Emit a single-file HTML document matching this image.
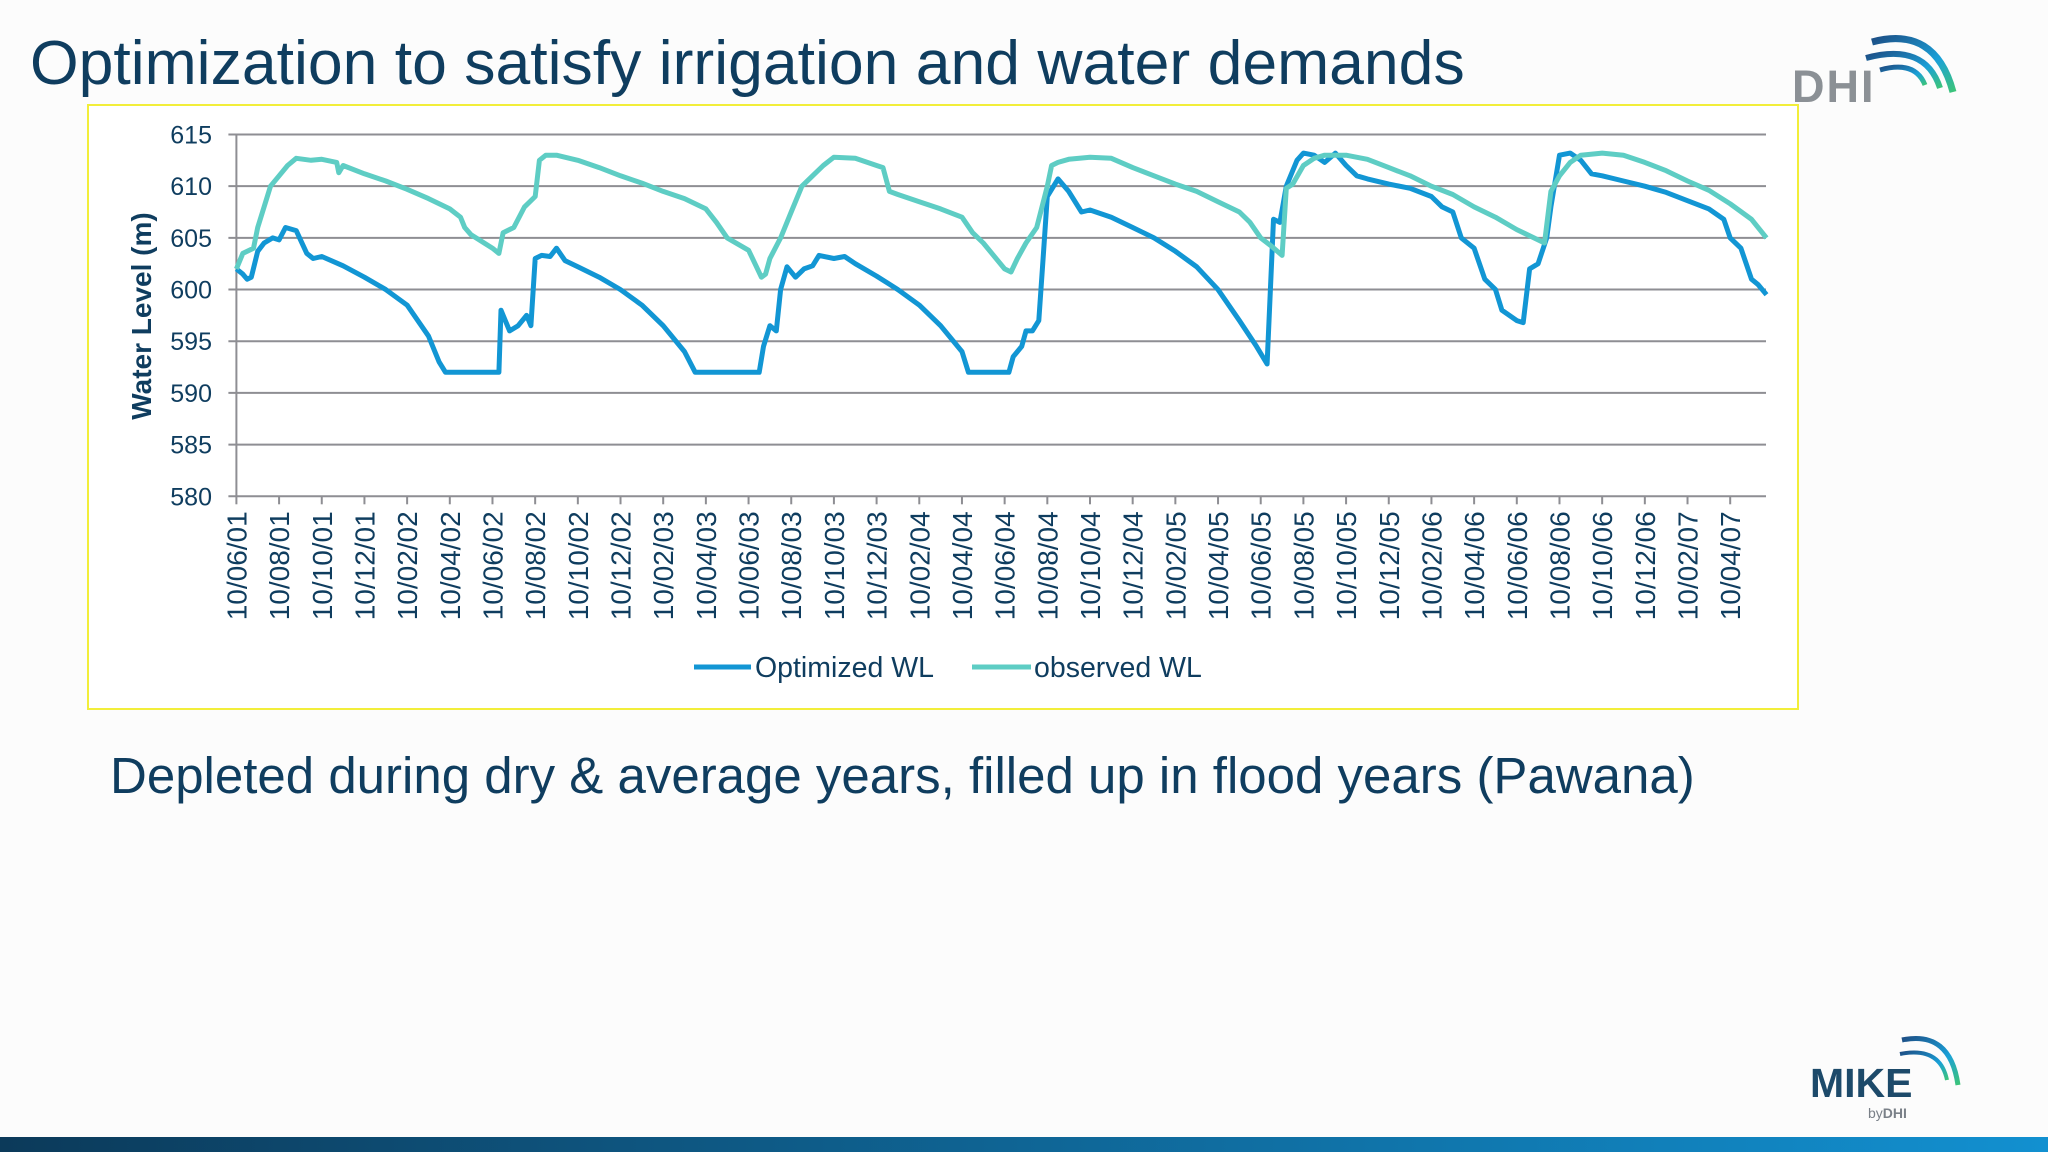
<!DOCTYPE html>
<html><head><meta charset="utf-8"><style>
html,body{margin:0;padding:0;background:#fcfcfc;}
svg{display:block;font-family:"Liberation Sans",sans-serif;}
</style></head><body>
<svg id="s" width="2048" height="1152" viewBox="0 0 2048 1152">
<defs>
<linearGradient id="bar" x1="0" x2="1"><stop offset="0" stop-color="#0c3a5a"/><stop offset="1" stop-color="#1290d0"/></linearGradient>
<linearGradient id="wave" x1="0" x2="1" y1="0" y2="1"><stop offset="0" stop-color="#1d4f86"/><stop offset="0.6" stop-color="#1aa0d8"/><stop offset="1" stop-color="#3cc47a"/></linearGradient>
</defs>
<rect width="2048" height="1152" fill="#fcfcfc"/>
<text x="30" y="84" font-size="62.5" fill="#0f3d5f">Optimization to satisfy irrigation and water demands</text>
<g>
<text x="1792" y="102" font-size="45" font-weight="bold" fill="#8b9095" letter-spacing="2">DHI</text>
<path d="M1872 42 Q1935 25 1953 92" stroke="url(#wave)" stroke-width="7" fill="none"/>
<path d="M1866 58 Q1925 42 1940 88" stroke="url(#wave)" stroke-width="6" fill="none"/>
<path d="M1880 70 Q1915 60 1925 85" stroke="url(#wave)" stroke-width="5" fill="none"/>
</g>
<rect x="88" y="105" width="1710" height="604" fill="#fff" stroke="#f2ee3a" stroke-width="2"/>
<g id="grid"></g>
<g id="yt"></g>
<g id="xt"></g>
<text transform="translate(151,316) rotate(-90)" text-anchor="middle" font-size="28" font-weight="bold" fill="#0f3d5f">Water Level (m)</text>
<g id="series"></g>
<g>
<g><line x1="694" y1="667" x2="751" y2="667" stroke="#1296d4" stroke-width="5"/><text x="755" y="677" font-size="28.5" fill="#0f3d5f">Optimized WL</text></g>
<g><line x1="972" y1="667" x2="1031" y2="667" stroke="#5ecdc4" stroke-width="5"/><text x="1034" y="677" font-size="28.5" fill="#0f3d5f">observed WL</text></g>
</g>
<text x="110" y="793" font-size="51" fill="#0f3d5f">Depleted during dry &amp; average years, filled up in flood years (Pawana)</text>
<g>
<text x="1810" y="1097" font-size="41" font-weight="bold" fill="#1d4a6a">MIKE</text>
<text x="1868" y="1118" font-size="14" fill="#7a8088">by<tspan font-weight="bold">DHI</tspan></text>
<path d="M1902 1040 Q1950 1030 1958 1085" stroke="url(#wave)" stroke-width="5" fill="none"/>
<path d="M1900 1054 Q1940 1046 1947 1080" stroke="url(#wave)" stroke-width="4" fill="none"/>
</g>
<rect x="0" y="1137" width="2048" height="15" fill="url(#bar)"/>
</svg>
<script>
const yTicks=[580,585,590,595,600,605,610,615];
const xLabels=["10/06/01","10/08/01","10/10/01","10/12/01","10/02/02","10/04/02","10/06/02","10/08/02","10/10/02","10/12/02","10/02/03","10/04/03","10/06/03","10/08/03","10/10/03","10/12/03","10/02/04","10/04/04","10/06/04","10/08/04","10/10/04","10/12/04","10/02/05","10/04/05","10/06/05","10/08/05","10/10/05","10/12/05","10/02/06","10/04/06","10/06/06","10/08/06","10/10/06","10/12/06","10/02/07","10/04/07"];
const obsT=[0,0.3,0.8,1,1.3,1.6,2,2.4,2.8,3.5,4,4.7,4.8,5,6,7,8,9,10,10.5,10.7,11,12,12.3,12.5,13,13.5,14,14.2,14.5,15,16,17,18,19,20,21,22,22.5,23,24,24.3,24.6,24.8,25,25.5,26,26.5,27,27.5,28,29,30,30.3,30.6,31,32,33,34,34.5,35,36,36.3,36.6,37,37.5,38,38.2,38.5,39,40,41,42,43,44,45,46,47,47.5,48,48.5,49,49.2,49.5,50,50.5,51,52,53,54,55,56,57,58,59,60,61,61.3,61.6,62,62.5,63,64,65,66,67,68,69,70,71,71.7];
const obsV=[602,603.5,604,606,608,610,611,612,612.7,612.5,612.6,612.3,611.3,612,611.2,610.5,609.7,608.8,607.8,607,606,605.3,604,603.5,605.5,606,608,609,612.5,613,613,612.5,611.8,611,610.3,609.5,608.8,607.8,606.5,605,603.8,602.5,601.2,601.5,603,605,607.5,610,611,612,612.8,612.7,612,611.8,609.5,609.2,608.5,607.8,607,605.5,604.5,602,601.7,603,604.5,606,610,612,612.3,612.6,612.8,612.7,611.8,611,610.2,609.5,608.5,607.5,606.5,605,604.2,603.3,609.8,610.2,612,612.7,613,613,612.6,611.8,611,610,609.2,608,607,605.8,604.8,604.5,609.5,611,612.3,613,613.2,613,612.3,611.5,610.5,609.6,608.3,606.8,605];
const optT=[0,0.3,0.5,0.7,1,1.3,1.7,2,2.3,2.8,3.3,3.6,4,5,6,7,8,8.5,9,9.5,9.8,12.3,12.4,12.8,13.2,13.6,13.8,14,14.3,14.7,15,15.4,16,17,18,19,20,21,21.5,24.5,24.7,25,25.3,25.5,25.8,26.2,26.6,27,27.3,28,28.5,29,30,31,32,33,34,34.3,36.2,36.4,36.8,37,37.3,37.6,37.8,38,38.5,39,39.6,40,41,42,43,44,45,46,47,47.8,48.3,48.6,48.9,49.2,49.7,50,50.5,51,51.5,52,52.5,53,54,55,56,56.5,57,57.4,58,58.5,59,59.3,60,60.3,60.6,61,61.4,61.6,62,62.5,63,63.5,64,65,66,67,68,69,69.7,70,70.5,71,71.3,71.7];
const optV=[602,601.5,601,601.2,603.7,604.5,605,604.8,606,605.7,603.5,603,603.2,602.3,601.2,600,598.5,597,595.5,593,592,592,598,596,596.5,597.5,596.5,603,603.3,603.2,604,602.8,602.2,601.2,600,598.5,596.5,594,592,592,594.5,596.5,596,600,602.2,601.2,602,602.3,603.3,603,603.2,602.5,601.3,600,598.5,596.5,594,592,592,593.5,594.5,596,596,597,603,609,610.7,609.5,607.5,607.7,607,606,605,603.7,602.2,600,597,594.5,592.8,606.8,606.5,610,612.5,613.2,613,612.3,613.2,612,611,610.7,610.2,609.8,609,608,607.5,605,604,601,600,598,597,596.8,602,602.5,605,608,613,613.2,612.5,611.2,611,610.5,610,609.4,608.6,607.8,606.8,605,604,601,600.5,599.5];
const X0=236.4, PX=21.34, Y0=496.3, YT=134.5, VMIN=580, VMAX=615, XR=1766;
function xs(t){return X0+t*PX;}
function ys(v){return Y0-(v-VMIN)/(VMAX-VMIN)*(Y0-YT);}
const NS="http://www.w3.org/2000/svg";
function mk(tag,attrs,parent){const e=document.createElementNS(NS,tag);for(const k in attrs)e.setAttribute(k,attrs[k]);parent.appendChild(e);return e;}
const grid=document.getElementById('grid'),yt=document.getElementById('yt'),xt=document.getElementById('xt'),ser=document.getElementById('series');
yTicks.forEach(v=>{
  const l=mk('line',{x1:X0-8,x2:XR,y1:ys(v),y2:ys(v),stroke:'#8e8e93','stroke-width':2},grid);
  
  
  const t=mk('text',{x:212,y:ys(v)+9,'text-anchor':'end','font-size':25,fill:'#0f3d5f'},yt);
  t.textContent=v;
  
  
});
const ax=mk('line',{x1:X0,x2:X0,y1:YT,y2:Y0,stroke:'#8e8e93','stroke-width':2},grid);


xLabels.forEach((s,i)=>{
  const x=xs(i*2);
  mk('line',{x1:x,x2:x,y1:Y0,y2:Y0+8,stroke:'#8e8e93','stroke-width':2},grid);
  const t=mk('text',{transform:`translate(${x+10},${Y0+15}) rotate(-90)`,'text-anchor':'end','font-size':28,fill:'#0f3d5f'},xt);
  t.textContent=s;
  
  
});
function line(T,V,color,name){
  const d=T.map((t,i)=>(i?'L':'M')+xs(t).toFixed(1)+' '+ys(V[i]).toFixed(1)).join(' ');
  const p=mk('path',{d:d,fill:'none',stroke:color,'stroke-width':5,'stroke-linejoin':'round'},ser);
  
  
}
line(optT,optV,'#1296d4','optimized-wl-line');
line(obsT,obsV,'#5ecdc4','observed-wl-line');
</script>
</body></html>
